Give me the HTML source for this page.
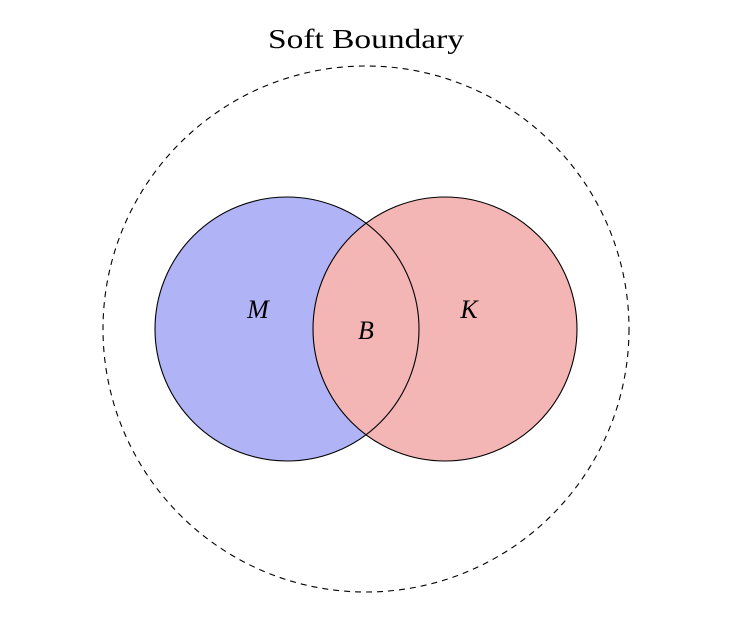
<!DOCTYPE html>
<html><head><style>html,body{margin:0;padding:0;background:#fff;}svg{display:block}</style></head>
<body>
<svg width="731" height="640" viewBox="0 0 731 640" xmlns="http://www.w3.org/2000/svg">
<rect width="731" height="640" fill="#fff"/>
<circle cx="366" cy="329" r="263" fill="none" stroke="#000" stroke-width="1.1" stroke-dasharray="6,5"/>
<circle cx="287" cy="329" r="132" fill="#b1b3f7"/>
<circle cx="445" cy="329" r="132" fill="#f4b5b5"/>
<circle cx="287" cy="329" r="132" fill="none" stroke="#000" stroke-width="1.1"/>
<circle cx="445" cy="329" r="132" fill="none" stroke="#000" stroke-width="1.1"/>
<text x="366" y="48" text-anchor="middle" font-family="Liberation Serif, serif" font-size="27" textLength="196" lengthAdjust="spacingAndGlyphs">Soft Boundary</text>
<text x="258" y="318" text-anchor="middle" font-family="Liberation Serif, serif" font-style="italic" font-size="26">M</text>
<text x="366" y="339" text-anchor="middle" font-family="Liberation Serif, serif" font-style="italic" font-size="26">B</text>
<text x="469" y="318" text-anchor="middle" font-family="Liberation Serif, serif" font-style="italic" font-size="26">K</text>
</svg>
</body></html>
